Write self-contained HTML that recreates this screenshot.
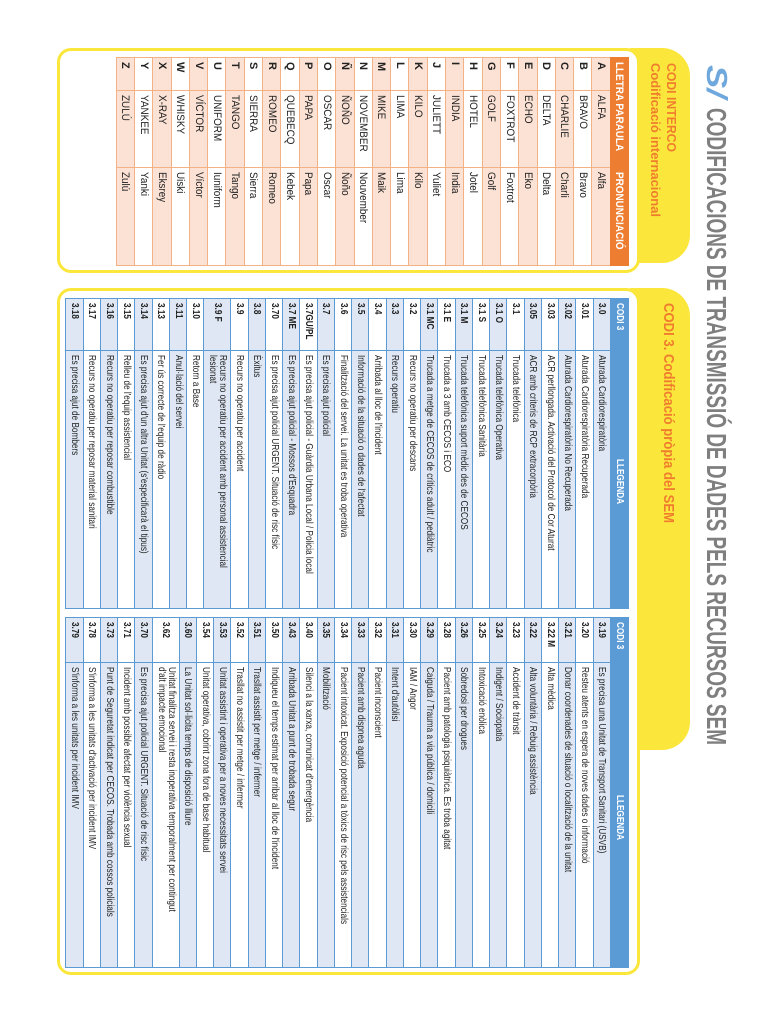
<!DOCTYPE html>
<html><head><meta charset="utf-8"><style>
html,body{margin:0;padding:0;background:#fff;width:768px;height:1024px;overflow:hidden;}
#L{position:absolute;left:0;top:0;width:1024px;height:768px;transform-origin:0 0;transform:translate(768px,0) rotate(90deg);font-family:"Liberation Sans",sans-serif;}
.box{position:absolute;border:3px solid #FBE73C;border-radius:14px;background:#fff;box-sizing:border-box;}
.tab{position:absolute;background:#FBE73C;border-radius:28px 28px 0 0;}
table{position:absolute;border-collapse:collapse;table-layout:fixed;}
td{padding:0 0 0 4px;overflow:hidden;white-space:nowrap;vertical-align:middle;}
.s{display:inline-block;transform:scaleX(.82);transform-origin:0 50%;white-space:nowrap;line-height:10px;}
.t1 td{border:1px solid #F4B183;height:17.3px;font-size:11px;color:#222;}
.t1 tr:nth-child(even) td{background:#FBE2D5;}
.t1 tr.h td{background:#ED7D31;color:#fff;border-color:#ED7D31;}
.t1 .s{transform:scaleX(.9);}
.t2 td{border:1px solid #5B9BD5;height:16.25px;font-size:10px;color:#222;}
.t2 tr:nth-child(even) td{background:#DEE7F3;}
.t2 tr.h td{background:#5B9BD5;color:#fff;height:17px;}
.t2 tr.d td{height:26px;}
.b{font-weight:bold;}
</style></head><body>
<div id="L">
<svg style="position:absolute;left:0;top:0" width="1024" height="768">
<text x="65" y="61" font-family="Liberation Sans" font-weight="bold" font-style="italic" font-size="29" fill="#6FA8DC" textLength="33" lengthAdjust="spacingAndGlyphs">S/</text>
<text x="108" y="61" font-family="Liberation Sans" font-weight="bold" font-size="28" fill="#7F7F7F" textLength="637" lengthAdjust="spacingAndGlyphs">CODIFICACIONS DE TRANSMISSIÓ DE DADES PELS RECURSOS SEM</text>
</svg>

<div class="tab" style="left:48px;top:78px;width:215px;height:60px;"></div>
<div class="box" style="left:48px;top:128px;width:225px;height:583px;"></div>
<svg style="position:absolute;left:0;top:0" width="1024" height="768">
<text x="63" y="101" font-family="Liberation Sans" font-weight="bold" font-size="13" fill="#F07D2E" textLength="89" lengthAdjust="spacingAndGlyphs">CODI INTERCO</text>
<text x="63" y="117" font-family="Liberation Sans" font-weight="bold" font-size="13" fill="#F07D2E" textLength="154" lengthAdjust="spacingAndGlyphs">Codificació internacional</text>
</svg>
<table class="t1" style="left:57px;top:139px;width:208px;">
<colgroup><col style="width:33px"><col style="width:77px"><col style="width:98px"></colgroup>
<tr class="h"><td colspan="2" class="b"><span class="s">LLETRA PARAULA</span></td><td class="b"><span class="s">PRONUNCIACIÓ</span></td></tr>
<tr><td class="b">A</td><td><span class="s">ALFA</span></td><td><span class="s">Alfa</span></td></tr>
<tr><td class="b">B</td><td><span class="s">BRAVO</span></td><td><span class="s">Bravo</span></td></tr>
<tr><td class="b">C</td><td><span class="s">CHARLIE</span></td><td><span class="s">Charli</span></td></tr>
<tr><td class="b">D</td><td><span class="s">DELTA</span></td><td><span class="s">Delta</span></td></tr>
<tr><td class="b">E</td><td><span class="s">ECHO</span></td><td><span class="s">Eko</span></td></tr>
<tr><td class="b">F</td><td><span class="s">FOXTROT</span></td><td><span class="s">Foxtrot</span></td></tr>
<tr><td class="b">G</td><td><span class="s">GOLF</span></td><td><span class="s">Golf</span></td></tr>
<tr><td class="b">H</td><td><span class="s">HOTEL</span></td><td><span class="s">Jotel</span></td></tr>
<tr><td class="b">I</td><td><span class="s">INDIA</span></td><td><span class="s">India</span></td></tr>
<tr><td class="b">J</td><td><span class="s">JULIETT</span></td><td><span class="s">Yuliet</span></td></tr>
<tr><td class="b">K</td><td><span class="s">KILO</span></td><td><span class="s">Kilo</span></td></tr>
<tr><td class="b">L</td><td><span class="s">LIMA</span></td><td><span class="s">Lima</span></td></tr>
<tr><td class="b">M</td><td><span class="s">MIKE</span></td><td><span class="s">Maik</span></td></tr>
<tr><td class="b">N</td><td><span class="s">NOVEMBER</span></td><td><span class="s">Nouvember</span></td></tr>
<tr><td class="b">Ñ</td><td><span class="s">ÑOÑO</span></td><td><span class="s">Ñoño</span></td></tr>
<tr><td class="b">O</td><td><span class="s">OSCAR</span></td><td><span class="s">Oscar</span></td></tr>
<tr><td class="b">P</td><td><span class="s">PAPA</span></td><td><span class="s">Papa</span></td></tr>
<tr><td class="b">Q</td><td><span class="s">QUEBECQ</span></td><td><span class="s">Kebek</span></td></tr>
<tr><td class="b">R</td><td><span class="s">ROMEO</span></td><td><span class="s">Romeo</span></td></tr>
<tr><td class="b">S</td><td><span class="s">SIERRA</span></td><td><span class="s">Sierra</span></td></tr>
<tr><td class="b">T</td><td><span class="s">TANGO</span></td><td><span class="s">Tango</span></td></tr>
<tr><td class="b">U</td><td><span class="s">UNIFORM</span></td><td><span class="s">Iuniform</span></td></tr>
<tr><td class="b">V</td><td><span class="s">VÍCTOR</span></td><td><span class="s">Víctor</span></td></tr>
<tr><td class="b">W</td><td><span class="s">WHISKY</span></td><td><span class="s">Uiski</span></td></tr>
<tr><td class="b">X</td><td><span class="s">X-RAY</span></td><td><span class="s">Eksrey</span></td></tr>
<tr><td class="b">Y</td><td><span class="s">YANKEE</span></td><td><span class="s">Yanki</span></td></tr>
<tr><td class="b">Z</td><td><span class="s">ZULÚ</span></td><td><span class="s">Zulú</span></td></tr>
</table>

<div class="tab" style="left:288px;top:78px;width:462px;height:60px;"></div>
<div class="box" style="left:288px;top:128px;width:687px;height:583px;"></div>
<svg style="position:absolute;left:0;top:0" width="1024" height="768">
<text x="303" y="104" font-family="Liberation Sans" font-weight="bold" font-size="15" fill="#F07D2E" textLength="220" lengthAdjust="spacingAndGlyphs">CODI 3. Codificació pròpia del SEM</text>
</svg>
<table class="t2" style="left:298px;top:139px;width:310px;">
<colgroup><col style="width:52px"><col style="width:258px"></colgroup>
<tr class="h"><td class="b"><span class="s">CODI 3</span></td><td class="b" style="text-align:center"><span class="s" style="transform-origin:50% 50%">LLEGENDA</span></td></tr>
<tr><td class="b"><span class="s">3.0</span></td><td><span class="s">Aturada Cardiorespiratòria</span></td></tr>
<tr><td class="b"><span class="s">3.01</span></td><td><span class="s">Aturada Cardiorespiratòria Recuperada</span></td></tr>
<tr><td class="b"><span class="s">3.02</span></td><td><span class="s">Aturada Cardiorespiratòria No Recuperada</span></td></tr>
<tr><td class="b"><span class="s">3.03</span></td><td><span class="s">ACR perllongada. Activació del Protocol de Cor Aturat</span></td></tr>
<tr><td class="b"><span class="s">3.05</span></td><td><span class="s">ACR amb criteris de RCP extracorpòria</span></td></tr>
<tr><td class="b"><span class="s">3.1</span></td><td><span class="s">Trucada telefònica</span></td></tr>
<tr><td class="b"><span class="s">3.1 O</span></td><td><span class="s">Trucada telefònica Operativa</span></td></tr>
<tr><td class="b"><span class="s">3.1 S</span></td><td><span class="s">Trucada telefònica Sanitària</span></td></tr>
<tr><td class="b"><span class="s">3.1 M</span></td><td><span class="s">Trucada telefònica suport mèdic des de CECOS</span></td></tr>
<tr><td class="b"><span class="s">3.1 E</span></td><td><span class="s">Trucada a 3 amb CECOS i ECO</span></td></tr>
<tr><td class="b"><span class="s">3.1 MC</span></td><td><span class="s">Trucada a metge de CECOS de crítics adult / pediàtric</span></td></tr>
<tr><td class="b"><span class="s">3.2</span></td><td><span class="s">Recurs no operatiu per descans</span></td></tr>
<tr><td class="b"><span class="s">3.3</span></td><td><span class="s">Recurs operatiu</span></td></tr>
<tr><td class="b"><span class="s">3.4</span></td><td><span class="s">Arribada al lloc de l'incident</span></td></tr>
<tr><td class="b"><span class="s">3.5</span></td><td><span class="s">Informació de la situació o dades de l'afectat</span></td></tr>
<tr><td class="b"><span class="s">3.6</span></td><td><span class="s">Finalització del servei. La unitat es troba operativa</span></td></tr>
<tr><td class="b"><span class="s">3.7</span></td><td><span class="s">Es precisa ajut policial</span></td></tr>
<tr><td class="b"><span class="s">3.7GU/PL</span></td><td><span class="s">Es precisa ajut policial - Guàrdia Urbana Local / Policia local</span></td></tr>
<tr><td class="b"><span class="s">3.7 ME</span></td><td><span class="s">Es precisa ajut policial - Mossos d'Esquadra</span></td></tr>
<tr><td class="b"><span class="s">3.70</span></td><td><span class="s">Es precisa ajut policial URGENT. Situació de risc físic</span></td></tr>
<tr><td class="b"><span class="s">3.8</span></td><td><span class="s">Èxitus</span></td></tr>
<tr><td class="b"><span class="s">3.9</span></td><td><span class="s">Recurs no operatiu per accident</span></td></tr>
<tr class="d"><td class="b"><span class="s">3.9 F</span></td><td><span class="s">Recurs no operatiu per accident amb personal assistencial<br>lesionat</span></td></tr>
<tr><td class="b"><span class="s">3.10</span></td><td><span class="s">Retorn a Base</span></td></tr>
<tr><td class="b"><span class="s">3.11</span></td><td><span class="s">Anul·lació del servei</span></td></tr>
<tr><td class="b"><span class="s">3.13</span></td><td><span class="s">Fer ús correcte de l'equip de ràdio</span></td></tr>
<tr><td class="b"><span class="s">3.14</span></td><td><span class="s">Es precisa ajut d'un altra Unitat (s'especificarà el tipus)</span></td></tr>
<tr><td class="b"><span class="s">3.15</span></td><td><span class="s">Relleu de l'equip assistencial</span></td></tr>
<tr><td class="b"><span class="s">3.16</span></td><td><span class="s">Recurs no operatiu per reposar combustible</span></td></tr>
<tr><td class="b"><span class="s">3.17</span></td><td><span class="s">Recurs no operatiu per reposar material sanitari</span></td></tr>
<tr><td class="b"><span class="s">3.18</span></td><td><span class="s">Es precisa ajut de Bombers</span></td></tr>
</table>

<table class="t2" style="left:617px;top:139px;width:350px;">
<colgroup><col style="width:45px"><col style="width:305px"></colgroup>
<tr class="h"><td class="b"><span class="s">CODI 3</span></td><td class="b" style="text-align:center"><span class="s" style="transform-origin:50% 50%">LLEGENDA</span></td></tr>
<tr><td class="b"><span class="s">3.19</span></td><td><span class="s">Es precisa una Unitat de Transport Sanitari (USVB)</span></td></tr>
<tr><td class="b"><span class="s">3.20</span></td><td><span class="s">Resteu atents en espera de noves dades o informació</span></td></tr>
<tr><td class="b"><span class="s">3.21</span></td><td><span class="s">Donar coordenades de situació o localització de la unitat</span></td></tr>
<tr><td class="b"><span class="s">3.22 M</span></td><td><span class="s">Alta mèdica</span></td></tr>
<tr><td class="b"><span class="s">3.22</span></td><td><span class="s">Alta voluntària / Rebuig assistència</span></td></tr>
<tr><td class="b"><span class="s">3.23</span></td><td><span class="s">Accident de trànsit</span></td></tr>
<tr><td class="b"><span class="s">3.24</span></td><td><span class="s">Indigent / Sociopatia</span></td></tr>
<tr><td class="b"><span class="s">3.25</span></td><td><span class="s">Intoxicació enòlica</span></td></tr>
<tr><td class="b"><span class="s">3.26</span></td><td><span class="s">Sobredosi per drogues</span></td></tr>
<tr><td class="b"><span class="s">3.28</span></td><td><span class="s">Pacient amb patologia psiquiàtrica. Es troba agitat</span></td></tr>
<tr><td class="b"><span class="s">3.29</span></td><td><span class="s">Caiguda / Trauma a via pública / domicili</span></td></tr>
<tr><td class="b"><span class="s">3.30</span></td><td><span class="s">IAM / Angor</span></td></tr>
<tr><td class="b"><span class="s">3.31</span></td><td><span class="s">Intent d'autòlisi</span></td></tr>
<tr><td class="b"><span class="s">3.32</span></td><td><span class="s">Pacient inconscient</span></td></tr>
<tr><td class="b"><span class="s">3.33</span></td><td><span class="s">Pacient amb dispnea aguda</span></td></tr>
<tr><td class="b"><span class="s">3.34</span></td><td><span class="s">Pacient intoxicat. Exposició potencial a tòxics de risc pels assistencials</span></td></tr>
<tr><td class="b"><span class="s">3.35</span></td><td><span class="s">Mobilització</span></td></tr>
<tr><td class="b"><span class="s">3.40</span></td><td><span class="s">Silenci a la xarxa, comunicat d'emergència</span></td></tr>
<tr><td class="b"><span class="s">3.43</span></td><td><span class="s">Arribada Unitat a punt de trobada segur</span></td></tr>
<tr><td class="b"><span class="s">3.50</span></td><td><span class="s">Indiqueu el temps estimat per arribar al lloc de l'incident</span></td></tr>
<tr><td class="b"><span class="s">3.51</span></td><td><span class="s">Trasllat assistit per metge / infermer</span></td></tr>
<tr><td class="b"><span class="s">3.52</span></td><td><span class="s">Trasllat no assistit per metge / infermer</span></td></tr>
<tr><td class="b"><span class="s">3.53</span></td><td><span class="s">Unitat assistint i operativa per a noves necessitats servei</span></td></tr>
<tr><td class="b"><span class="s">3.54</span></td><td><span class="s">Unitat operativa, cobrint zona fora de base habitual</span></td></tr>
<tr><td class="b"><span class="s">3.60</span></td><td><span class="s">La Unitat sol·licita temps de disposició lliure</span></td></tr>
<tr class="d"><td class="b"><span class="s">3.62</span></td><td><span class="s">Unitat finalitza servei i resta inoperativa temporalment per contingut<br>d'alt impacte emocional</span></td></tr>
<tr><td class="b"><span class="s">3.70</span></td><td><span class="s">Es precisa ajut policial URGENT. Situació de risc físic</span></td></tr>
<tr><td class="b"><span class="s">3.71</span></td><td><span class="s">Incident amb possible afectat per violència sexual</span></td></tr>
<tr><td class="b"><span class="s">3.73</span></td><td><span class="s">Punt de Seguretat indicat per CECOS. Trobada amb cossos policials</span></td></tr>
<tr><td class="b"><span class="s">3.78</span></td><td><span class="s">S'informa a les unitats d'activació per incident IMV</span></td></tr>
<tr><td class="b"><span class="s">3.79</span></td><td><span class="s">S'informa a les unitats per incident IMV</span></td></tr>
</table>
</div>
</body></html>
